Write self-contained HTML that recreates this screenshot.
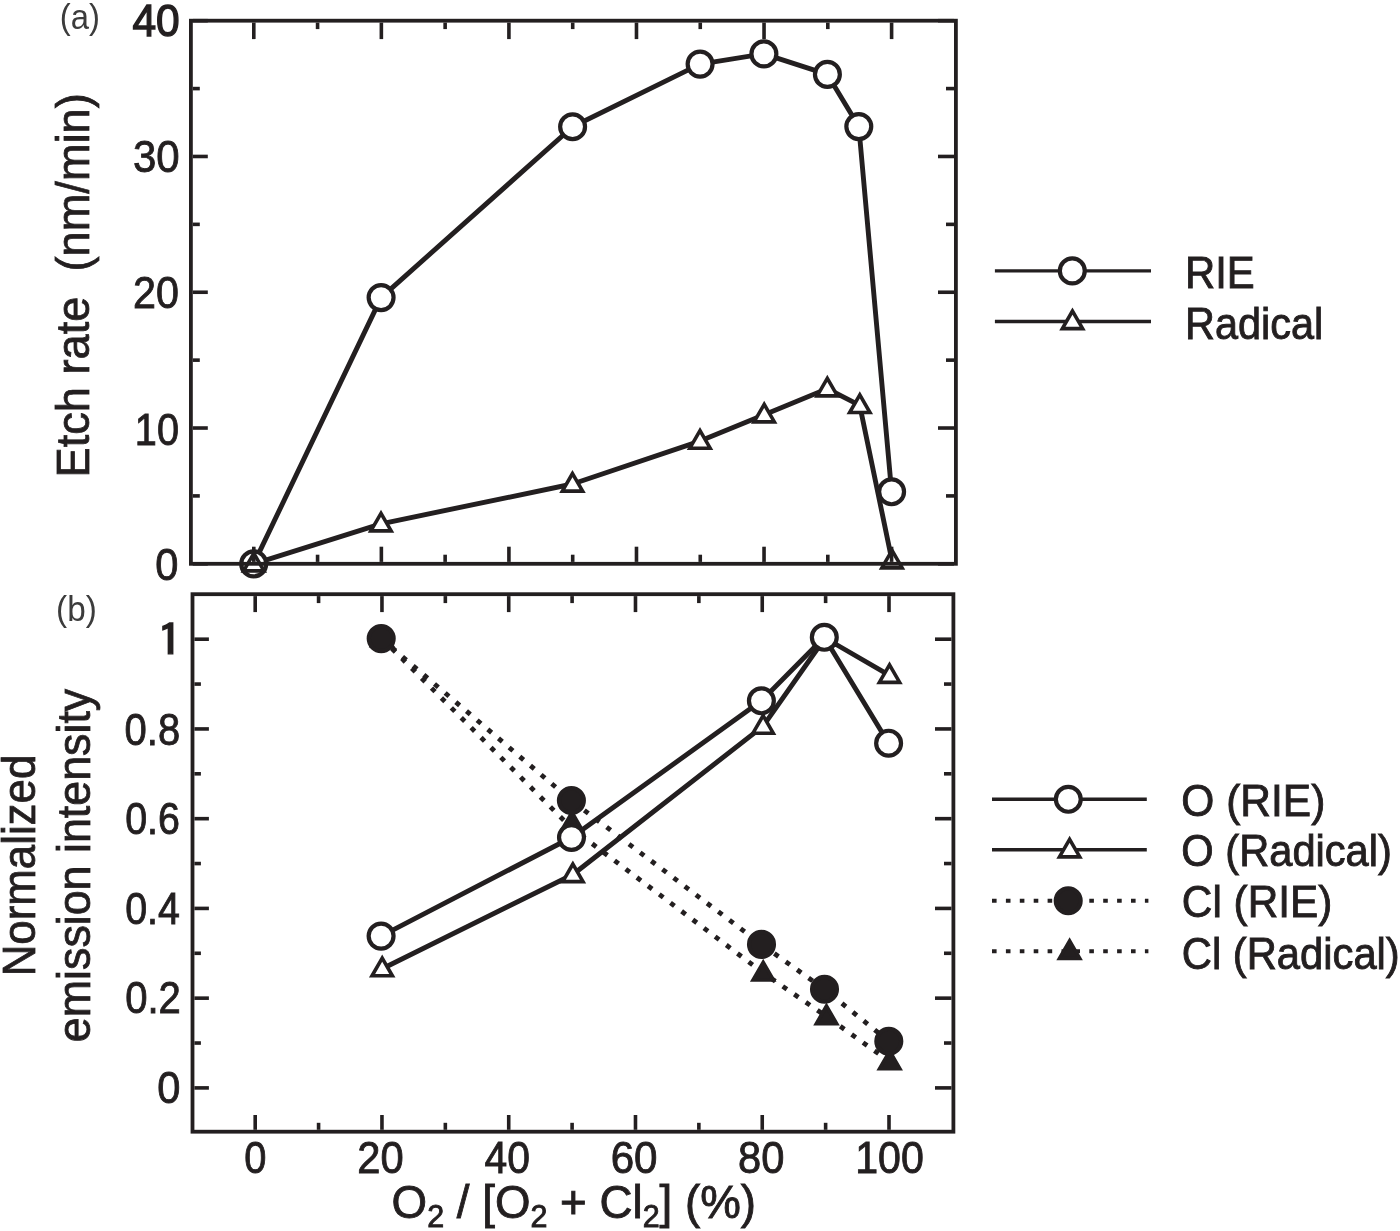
<!DOCTYPE html>
<html><head><meta charset="utf-8"><title>Etch rate and emission intensity</title>
<style>html,body{margin:0;padding:0;background:#fff;} svg{display:block;} text{font-family:"Liberation Sans",Arial,Helvetica,sans-serif;white-space:pre;}</style>
</head><body>
<svg width="1400" height="1231" viewBox="0 0 1400 1231">
<rect width="1400" height="1231" fill="#fff"/>
<g stroke="#231f20" fill="none">
<polyline points="253.70,563.90 381.10,297.60 572.60,126.75 700.10,64.10 763.90,53.90 827.40,74.40 858.80,126.60 891.60,491.80" fill="none" stroke-width="4.9" stroke-linejoin="round"/>
<polyline points="253.80,563.80 381.00,523.80 572.50,484.00 700.00,441.10 764.20,414.80 827.30,388.80 859.80,405.40 892.00,560.80" fill="none" stroke-width="4.9" stroke-linejoin="round"/>
<circle cx="253.70" cy="563.90" r="12.45" fill="#fff" stroke-width="4.2"/>
<circle cx="381.10" cy="297.60" r="12.45" fill="#fff" stroke-width="4.2"/>
<circle cx="572.60" cy="126.75" r="12.45" fill="#fff" stroke-width="4.2"/>
<circle cx="700.10" cy="64.10" r="12.45" fill="#fff" stroke-width="4.2"/>
<circle cx="763.90" cy="53.90" r="12.45" fill="#fff" stroke-width="4.2"/>
<circle cx="827.40" cy="74.40" r="12.45" fill="#fff" stroke-width="4.2"/>
<circle cx="858.80" cy="126.60" r="12.45" fill="#fff" stroke-width="4.2"/>
<circle cx="891.60" cy="491.80" r="12.45" fill="#fff" stroke-width="4.2"/>
<polygon points="253.80,553.30 243.64,570.90 263.96,570.90" fill="#fff" stroke-width="3.6" stroke-linejoin="miter" stroke-miterlimit="10"/>
<polygon points="381.00,513.30 370.84,530.90 391.16,530.90" fill="#fff" stroke-width="3.6" stroke-linejoin="miter" stroke-miterlimit="10"/>
<polygon points="572.50,473.50 562.34,491.10 582.66,491.10" fill="#fff" stroke-width="3.6" stroke-linejoin="miter" stroke-miterlimit="10"/>
<polygon points="700.00,430.60 689.84,448.20 710.16,448.20" fill="#fff" stroke-width="3.6" stroke-linejoin="miter" stroke-miterlimit="10"/>
<polygon points="764.20,404.30 754.04,421.90 774.36,421.90" fill="#fff" stroke-width="3.6" stroke-linejoin="miter" stroke-miterlimit="10"/>
<polygon points="827.30,378.30 817.14,395.90 837.46,395.90" fill="#fff" stroke-width="3.6" stroke-linejoin="miter" stroke-miterlimit="10"/>
<polygon points="859.80,394.90 849.64,412.50 869.96,412.50" fill="#fff" stroke-width="3.6" stroke-linejoin="miter" stroke-miterlimit="10"/>
<polygon points="892.00,550.30 881.84,567.90 902.16,567.90" fill="#fff" stroke-width="3.6" stroke-linejoin="miter" stroke-miterlimit="10"/>
<polyline points="382.00,638.60 572.00,828.50 763.20,972.90 826.50,1016.50 889.70,1061.60" fill="none" stroke-width="4.8" stroke-dasharray="5 9" stroke-linecap="butt"/>
<polyline points="381.20,638.60 571.40,800.50 761.50,944.40 824.50,989.30 888.80,1041.20" fill="none" stroke-width="4.8" stroke-dasharray="5 9" stroke-linecap="butt"/>
<polyline points="382.20,968.70 572.90,874.50 763.10,726.10 825.00,638.00 889.50,675.30" fill="none" stroke-width="4.9" stroke-linejoin="round"/>
<polyline points="381.10,936.10 571.50,837.50 761.40,700.80 824.30,637.30 888.60,743.20" fill="none" stroke-width="4.9" stroke-linejoin="round"/>
<polygon points="382.00,628.10 371.84,645.70 392.16,645.70" fill="#231f20" stroke-width="3.6" stroke-linejoin="miter" stroke-miterlimit="10"/>
<polygon points="572.00,812.30 561.84,829.90 582.16,829.90" fill="#231f20" stroke-width="3.6" stroke-linejoin="miter" stroke-miterlimit="10"/>
<polygon points="763.20,962.40 753.04,980.00 773.36,980.00" fill="#231f20" stroke-width="3.6" stroke-linejoin="miter" stroke-miterlimit="10"/>
<polygon points="826.50,1006.00 816.34,1023.60 836.66,1023.60" fill="#231f20" stroke-width="3.6" stroke-linejoin="miter" stroke-miterlimit="10"/>
<polygon points="889.70,1051.10 879.54,1068.70 899.86,1068.70" fill="#231f20" stroke-width="3.6" stroke-linejoin="miter" stroke-miterlimit="10"/>
<circle cx="381.20" cy="638.60" r="12.45" fill="#231f20" stroke-width="4.2"/>
<circle cx="571.40" cy="800.50" r="12.45" fill="#231f20" stroke-width="4.2"/>
<circle cx="761.50" cy="944.40" r="12.45" fill="#231f20" stroke-width="4.2"/>
<circle cx="824.50" cy="989.30" r="12.45" fill="#231f20" stroke-width="4.2"/>
<circle cx="888.80" cy="1041.20" r="12.45" fill="#231f20" stroke-width="4.2"/>
<polygon points="382.20,958.20 372.04,975.80 392.36,975.80" fill="#fff" stroke-width="3.6" stroke-linejoin="miter" stroke-miterlimit="10"/>
<polygon points="572.90,864.00 562.74,881.60 583.06,881.60" fill="#fff" stroke-width="3.6" stroke-linejoin="miter" stroke-miterlimit="10"/>
<polygon points="763.10,715.60 752.94,733.20 773.26,733.20" fill="#fff" stroke-width="3.6" stroke-linejoin="miter" stroke-miterlimit="10"/>
<polygon points="825.00,627.50 814.84,645.10 835.16,645.10" fill="#fff" stroke-width="3.6" stroke-linejoin="miter" stroke-miterlimit="10"/>
<polygon points="889.50,664.80 879.34,682.40 899.66,682.40" fill="#fff" stroke-width="3.6" stroke-linejoin="miter" stroke-miterlimit="10"/>
<circle cx="381.10" cy="936.10" r="12.45" fill="#fff" stroke-width="4.2"/>
<circle cx="571.50" cy="837.50" r="12.45" fill="#fff" stroke-width="4.2"/>
<circle cx="761.40" cy="700.80" r="12.45" fill="#fff" stroke-width="4.2"/>
<circle cx="824.30" cy="637.30" r="12.45" fill="#fff" stroke-width="4.2"/>
<circle cx="888.60" cy="743.20" r="12.45" fill="#fff" stroke-width="4.2"/>
<line x1="253.80" y1="22.60" x2="253.80" y2="39.10" stroke-width="3.6" />
<line x1="253.80" y1="561.90" x2="253.80" y2="546.70" stroke-width="3.6" />
<line x1="381.36" y1="22.60" x2="381.36" y2="39.10" stroke-width="3.6" />
<line x1="381.36" y1="561.90" x2="381.36" y2="546.70" stroke-width="3.6" />
<line x1="508.92" y1="22.60" x2="508.92" y2="39.10" stroke-width="3.6" />
<line x1="508.92" y1="561.90" x2="508.92" y2="546.70" stroke-width="3.6" />
<line x1="636.48" y1="22.60" x2="636.48" y2="39.10" stroke-width="3.6" />
<line x1="636.48" y1="561.90" x2="636.48" y2="546.70" stroke-width="3.6" />
<line x1="764.04" y1="22.60" x2="764.04" y2="39.10" stroke-width="3.6" />
<line x1="764.04" y1="561.90" x2="764.04" y2="546.70" stroke-width="3.6" />
<line x1="891.60" y1="22.60" x2="891.60" y2="39.10" stroke-width="3.6" />
<line x1="891.60" y1="561.90" x2="891.60" y2="546.70" stroke-width="3.6" />
<line x1="317.58" y1="22.60" x2="317.58" y2="29.10" stroke-width="3.6" />
<line x1="317.58" y1="561.90" x2="317.58" y2="554.70" stroke-width="3.6" />
<line x1="445.14" y1="22.60" x2="445.14" y2="29.10" stroke-width="3.6" />
<line x1="445.14" y1="561.90" x2="445.14" y2="554.70" stroke-width="3.6" />
<line x1="572.70" y1="22.60" x2="572.70" y2="29.10" stroke-width="3.6" />
<line x1="572.70" y1="561.90" x2="572.70" y2="554.70" stroke-width="3.6" />
<line x1="700.26" y1="22.60" x2="700.26" y2="29.10" stroke-width="3.6" />
<line x1="700.26" y1="561.90" x2="700.26" y2="554.70" stroke-width="3.6" />
<line x1="827.82" y1="22.60" x2="827.82" y2="29.10" stroke-width="3.6" />
<line x1="827.82" y1="561.90" x2="827.82" y2="554.70" stroke-width="3.6" />
<line x1="192.80" y1="563.80" x2="207.80" y2="563.80" stroke-width="3.6" />
<line x1="954.00" y1="563.80" x2="938.00" y2="563.80" stroke-width="3.6" />
<line x1="192.80" y1="428.02" x2="207.80" y2="428.02" stroke-width="3.6" />
<line x1="954.00" y1="428.02" x2="938.00" y2="428.02" stroke-width="3.6" />
<line x1="192.80" y1="292.25" x2="207.80" y2="292.25" stroke-width="3.6" />
<line x1="954.00" y1="292.25" x2="938.00" y2="292.25" stroke-width="3.6" />
<line x1="192.80" y1="156.47" x2="207.80" y2="156.47" stroke-width="3.6" />
<line x1="954.00" y1="156.47" x2="938.00" y2="156.47" stroke-width="3.6" />
<line x1="192.80" y1="20.70" x2="207.80" y2="20.70" stroke-width="3.6" />
<line x1="954.00" y1="20.70" x2="938.00" y2="20.70" stroke-width="3.6" />
<line x1="192.80" y1="495.91" x2="199.80" y2="495.91" stroke-width="3.6" />
<line x1="954.00" y1="495.91" x2="946.00" y2="495.91" stroke-width="3.6" />
<line x1="192.80" y1="360.14" x2="199.80" y2="360.14" stroke-width="3.6" />
<line x1="954.00" y1="360.14" x2="946.00" y2="360.14" stroke-width="3.6" />
<line x1="192.80" y1="224.36" x2="199.80" y2="224.36" stroke-width="3.6" />
<line x1="954.00" y1="224.36" x2="946.00" y2="224.36" stroke-width="3.6" />
<line x1="192.80" y1="88.59" x2="199.80" y2="88.59" stroke-width="3.6" />
<line x1="954.00" y1="88.59" x2="946.00" y2="88.59" stroke-width="3.6" />
<rect x="190.90" y="20.70" width="765.00" height="543.10" fill="none" stroke-width="3.8" stroke-linejoin="miter"/>
<line x1="255.20" y1="596.10" x2="255.20" y2="612.10" stroke-width="3.6" />
<line x1="255.20" y1="1129.80" x2="255.20" y2="1115.00" stroke-width="3.6" />
<line x1="381.96" y1="596.10" x2="381.96" y2="612.10" stroke-width="3.6" />
<line x1="381.96" y1="1129.80" x2="381.96" y2="1115.00" stroke-width="3.6" />
<line x1="508.72" y1="596.10" x2="508.72" y2="612.10" stroke-width="3.6" />
<line x1="508.72" y1="1129.80" x2="508.72" y2="1115.00" stroke-width="3.6" />
<line x1="635.48" y1="596.10" x2="635.48" y2="612.10" stroke-width="3.6" />
<line x1="635.48" y1="1129.80" x2="635.48" y2="1115.00" stroke-width="3.6" />
<line x1="762.24" y1="596.10" x2="762.24" y2="612.10" stroke-width="3.6" />
<line x1="762.24" y1="1129.80" x2="762.24" y2="1115.00" stroke-width="3.6" />
<line x1="889.00" y1="596.10" x2="889.00" y2="612.10" stroke-width="3.6" />
<line x1="889.00" y1="1129.80" x2="889.00" y2="1115.00" stroke-width="3.6" />
<line x1="318.58" y1="596.10" x2="318.58" y2="603.10" stroke-width="3.6" />
<line x1="318.58" y1="1129.80" x2="318.58" y2="1122.80" stroke-width="3.6" />
<line x1="445.34" y1="596.10" x2="445.34" y2="603.10" stroke-width="3.6" />
<line x1="445.34" y1="1129.80" x2="445.34" y2="1122.80" stroke-width="3.6" />
<line x1="572.10" y1="596.10" x2="572.10" y2="603.10" stroke-width="3.6" />
<line x1="572.10" y1="1129.80" x2="572.10" y2="1122.80" stroke-width="3.6" />
<line x1="698.86" y1="596.10" x2="698.86" y2="603.10" stroke-width="3.6" />
<line x1="698.86" y1="1129.80" x2="698.86" y2="1122.80" stroke-width="3.6" />
<line x1="825.62" y1="596.10" x2="825.62" y2="603.10" stroke-width="3.6" />
<line x1="825.62" y1="1129.80" x2="825.62" y2="1122.80" stroke-width="3.6" />
<line x1="194.40" y1="1087.90" x2="208.90" y2="1087.90" stroke-width="3.6" />
<line x1="951.50" y1="1087.90" x2="935.00" y2="1087.90" stroke-width="3.6" />
<line x1="194.40" y1="998.16" x2="208.90" y2="998.16" stroke-width="3.6" />
<line x1="951.50" y1="998.16" x2="935.00" y2="998.16" stroke-width="3.6" />
<line x1="194.40" y1="908.42" x2="208.90" y2="908.42" stroke-width="3.6" />
<line x1="951.50" y1="908.42" x2="935.00" y2="908.42" stroke-width="3.6" />
<line x1="194.40" y1="818.68" x2="208.90" y2="818.68" stroke-width="3.6" />
<line x1="951.50" y1="818.68" x2="935.00" y2="818.68" stroke-width="3.6" />
<line x1="194.40" y1="728.94" x2="208.90" y2="728.94" stroke-width="3.6" />
<line x1="951.50" y1="728.94" x2="935.00" y2="728.94" stroke-width="3.6" />
<line x1="194.40" y1="639.20" x2="208.90" y2="639.20" stroke-width="3.6" />
<line x1="951.50" y1="639.20" x2="935.00" y2="639.20" stroke-width="3.6" />
<line x1="194.40" y1="1043.03" x2="200.90" y2="1043.03" stroke-width="3.6" />
<line x1="951.50" y1="1043.03" x2="944.00" y2="1043.03" stroke-width="3.6" />
<line x1="194.40" y1="953.29" x2="200.90" y2="953.29" stroke-width="3.6" />
<line x1="951.50" y1="953.29" x2="944.00" y2="953.29" stroke-width="3.6" />
<line x1="194.40" y1="863.55" x2="200.90" y2="863.55" stroke-width="3.6" />
<line x1="951.50" y1="863.55" x2="944.00" y2="863.55" stroke-width="3.6" />
<line x1="194.40" y1="773.81" x2="200.90" y2="773.81" stroke-width="3.6" />
<line x1="951.50" y1="773.81" x2="944.00" y2="773.81" stroke-width="3.6" />
<line x1="194.40" y1="684.07" x2="200.90" y2="684.07" stroke-width="3.6" />
<line x1="951.50" y1="684.07" x2="944.00" y2="684.07" stroke-width="3.6" />
<rect x="192.50" y="594.20" width="760.90" height="537.50" fill="none" stroke-width="3.8" stroke-linejoin="miter"/>
<line x1="994.90" y1="270.90" x2="1151.00" y2="270.90" stroke-width="3.4" />
<circle cx="1072.30" cy="270.90" r="12.45" fill="#fff" stroke-width="4.2"/>
<line x1="994.90" y1="321.50" x2="1151.00" y2="321.50" stroke-width="3.4" />
<polygon points="1072.50,311.00 1062.34,328.60 1082.66,328.60" fill="#fff" stroke-width="3.6" stroke-linejoin="miter" stroke-miterlimit="10"/>
<line x1="992.00" y1="799.30" x2="1146.80" y2="799.30" stroke-width="3.4" />
<circle cx="1068.30" cy="799.30" r="12.45" fill="#fff" stroke-width="4.2"/>
<line x1="992.00" y1="849.80" x2="1146.80" y2="849.80" stroke-width="3.4" />
<polygon points="1069.60,839.30 1059.44,856.90 1079.76,856.90" fill="#fff" stroke-width="3.6" stroke-linejoin="miter" stroke-miterlimit="10"/>
<line x1="992.00" y1="900.70" x2="1148.40" y2="900.70" stroke-width="4.0" stroke-dasharray="4.6 9.3"/>
<circle cx="1068.20" cy="900.70" r="12.45" fill="#231f20" stroke-width="4.2"/>
<line x1="992.00" y1="951.30" x2="1148.40" y2="951.30" stroke-width="4.0" stroke-dasharray="4.6 9.3"/>
<polygon points="1069.60,940.80 1059.44,958.40 1079.76,958.40" fill="#231f20" stroke-width="3.6" stroke-linejoin="miter" stroke-miterlimit="10"/>
</g>
<text transform="translate(59.69 29.35) scale(0.9526 1)" font-size="34.5" font-weight="400" fill="#3c3c3c">(a)</text>
<text transform="translate(56.07 621.45) scale(0.9658 1)" font-size="34.5" font-weight="400" fill="#3c3c3c">(b)</text>
<text transform="translate(132.40 36.00) scale(0.9551 1)" font-size="44.5" font-weight="400" fill="#231f20" stroke="#231f20" stroke-width="1.4">40</text>
<text transform="translate(132.96 171.60) scale(0.9437 1)" font-size="44.5" font-weight="400" fill="#231f20" stroke="#231f20" stroke-width="0.9">30</text>
<text transform="translate(133.07 307.70) scale(0.9271 1)" font-size="44.5" font-weight="400" fill="#231f20" stroke="#231f20" stroke-width="0.9">20</text>
<text transform="translate(134.82 444.50) scale(0.8915 1)" font-size="44.5" font-weight="400" fill="#231f20" stroke="#231f20" stroke-width="0.9">10</text>
<text transform="translate(155.27 580.40) scale(0.9348 1)" font-size="44.5" font-weight="400" fill="#231f20" stroke="#231f20" stroke-width="0.9">0</text>
<text transform="translate(156.71 656.10) scale(1.1727 1)" font-size="44.5" font-weight="400" fill="#231f20" style="font-family:IPAGothic,sans-serif" stroke="#231f20" stroke-width="1.3">1</text>
<text transform="translate(124.60 744.90) scale(0.8983 1)" font-size="44.5" font-weight="400" fill="#231f20" stroke="#231f20" stroke-width="0.9">0.8</text>
<text transform="translate(125.21 833.90) scale(0.8850 1)" font-size="44.5" font-weight="400" fill="#231f20" stroke="#231f20" stroke-width="0.9">0.6</text>
<text transform="translate(125.21 923.50) scale(0.8850 1)" font-size="44.5" font-weight="400" fill="#231f20" stroke="#231f20" stroke-width="0.9">0.4</text>
<text transform="translate(125.20 1013.00) scale(0.9000 1)" font-size="44.5" font-weight="400" fill="#231f20" stroke="#231f20" stroke-width="0.9">0.2</text>
<text transform="translate(157.37 1103.40) scale(0.9348 1)" font-size="44.5" font-weight="400" fill="#231f20" stroke="#231f20" stroke-width="0.9">0</text>
<text transform="translate(244.20 1173.40) scale(0.8957 1)" font-size="44.5" font-weight="400" fill="#231f20" stroke="#231f20" stroke-width="0.9">0</text>
<text transform="translate(357.26 1173.40) scale(0.9375 1)" font-size="44.5" font-weight="400" fill="#231f20" stroke="#231f20" stroke-width="0.9">20</text>
<text transform="translate(484.60 1173.40) scale(0.9184 1)" font-size="44.5" font-weight="400" fill="#231f20" stroke="#231f20" stroke-width="0.9">40</text>
<text transform="translate(610.65 1173.40) scale(0.9479 1)" font-size="44.5" font-weight="400" fill="#231f20" stroke="#231f20" stroke-width="0.9">60</text>
<text transform="translate(737.96 1173.40) scale(0.9375 1)" font-size="44.5" font-weight="400" fill="#231f20" stroke="#231f20" stroke-width="0.9">80</text>
<text transform="translate(855.25 1173.40) scale(0.9239 1)" font-size="44.5" font-weight="400" fill="#231f20" stroke="#231f20" stroke-width="0.9">100</text>
<text transform="translate(1184.98 288.20) scale(0.9400 1)" font-size="44.5" font-weight="400" fill="#231f20" stroke="#231f20" stroke-width="0.9">RIE</text>
<text transform="translate(1185.01 339.00) scale(0.9315 1)" font-size="44.5" font-weight="400" fill="#231f20" stroke="#231f20" stroke-width="0.9">Radical</text>
<text transform="translate(1181.35 815.70) scale(0.9547 1)" font-size="44.5" font-weight="400" fill="#231f20" stroke="#231f20" stroke-width="0.9">O (RIE)</text>
<text transform="translate(1181.36 866.20) scale(0.9360 1)" font-size="44.5" font-weight="400" fill="#231f20" stroke="#231f20" stroke-width="0.9">O (Radical)</text>
<text transform="translate(1181.85 916.90) scale(0.9510 1)" font-size="44.5" font-weight="400" fill="#231f20" stroke="#231f20" stroke-width="0.9">Cl (RIE)</text>
<text transform="translate(1181.86 969.00) scale(0.9376 1)" font-size="44.5" font-weight="400" fill="#231f20" stroke="#231f20" stroke-width="0.9">Cl (Radical)</text>
<text transform="translate(391.62 1217.90) scale(0.9829 1)" font-size="46.5" font-weight="400" fill="#231f20" stroke="#231f20" stroke-width="0.9">O<tspan font-size="31" dy="9">2</tspan><tspan dy="-9"> / [O</tspan><tspan font-size="31" dy="9">2</tspan><tspan dy="-9"> + Cl</tspan><tspan font-size="31" dy="9">2</tspan><tspan dy="-9">] (%)</tspan></text>
<text transform="translate(88.60 477.42) rotate(-90) scale(0.9721 1)" font-size="46.5" font-weight="400" fill="#231f20" stroke="#231f20" stroke-width="0.8">Etch rate&#160; (nm/min)</text>
<text transform="translate(35.00 976.33) rotate(-90) scale(0.9426 1)" font-size="46.5" font-weight="400" fill="#231f20" stroke="#231f20" stroke-width="0.8">Normalized</text>
<text transform="translate(90.40 1042.16) rotate(-90) scale(0.9632 1)" font-size="46.5" font-weight="400" fill="#231f20" stroke="#231f20" stroke-width="0.8">emission intensity</text>
</svg>
</body></html>
